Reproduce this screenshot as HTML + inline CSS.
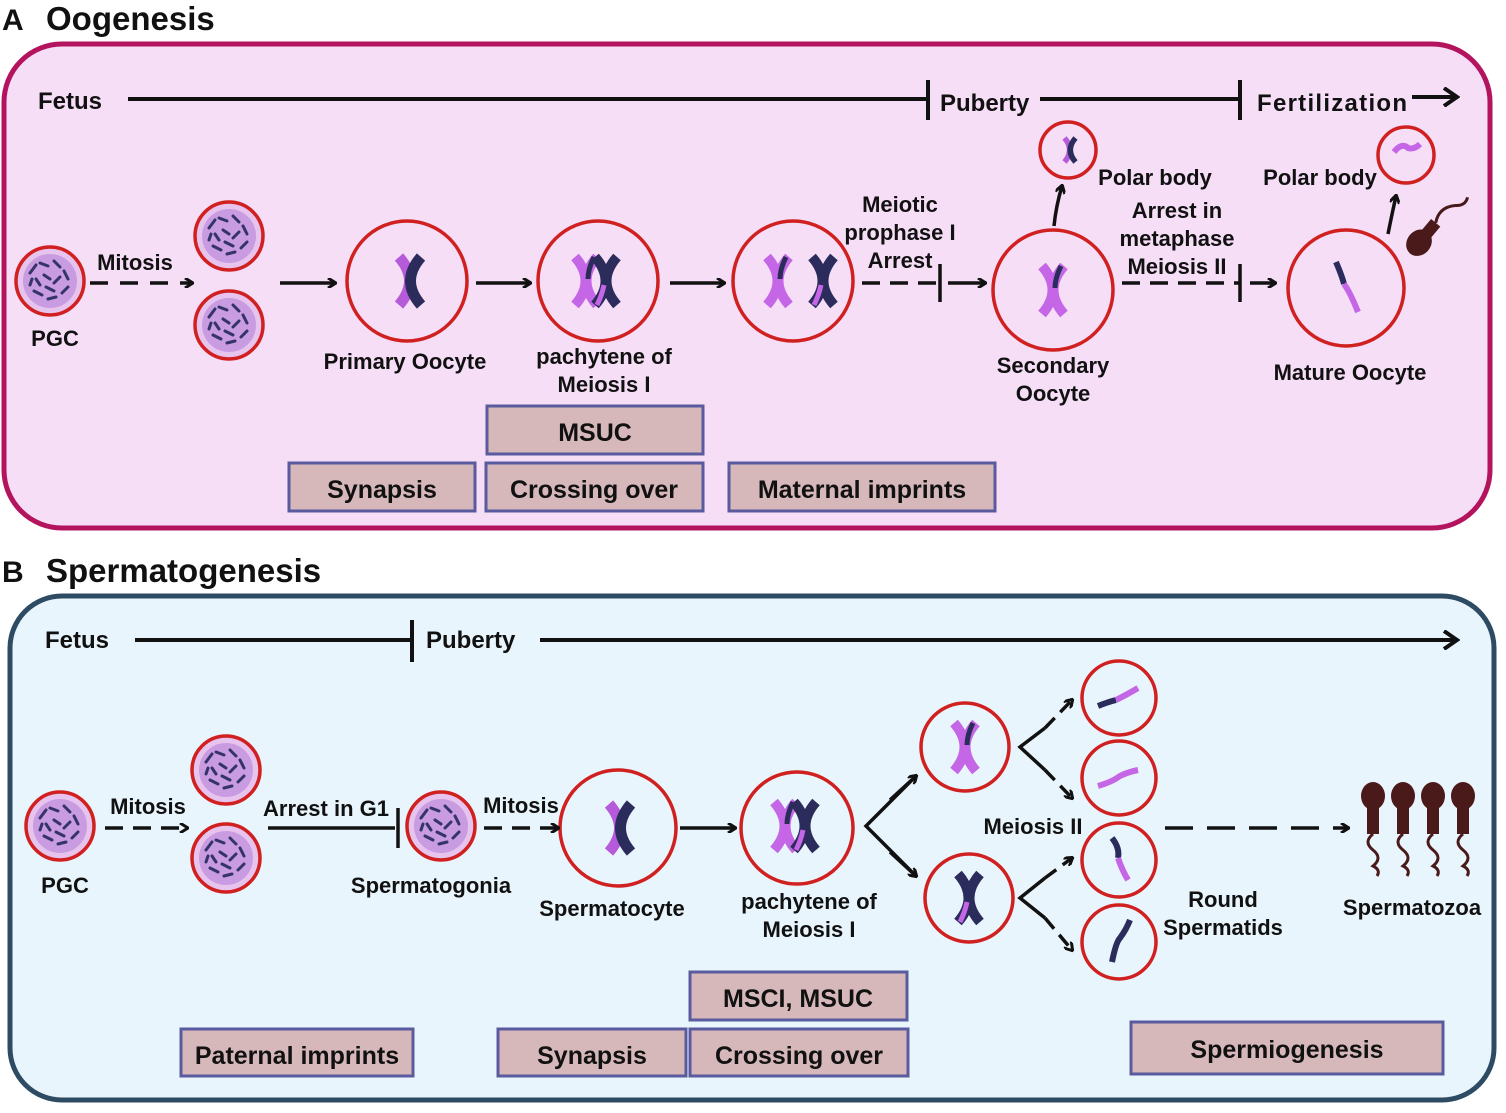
<!DOCTYPE html>
<html><head><meta charset="utf-8"><style>
body{margin:0;background:#fff}
svg{display:block}
text{font-family:"Liberation Sans",sans-serif;font-weight:bold;fill:#111}
</style></head><body>
<svg width="1506" height="1113" viewBox="0 0 1506 1113" xmlns="http://www.w3.org/2000/svg">
<defs>
<marker id="ah" markerWidth="10" markerHeight="10" refX="8" refY="5" orient="auto" markerUnits="userSpaceOnUse">
<path d="M1,0 L9,5 L1,10" fill="none" stroke="#111" stroke-width="3"/></marker>
<marker id="ahb" markerWidth="18" markerHeight="20" refX="14" refY="10" orient="auto" markerUnits="userSpaceOnUse">
<path d="M2,1 L15,10 L2,19" fill="none" stroke="#111" stroke-width="4"/></marker>
<g id="cell">
<circle r="34" fill="#e6c4ee" stroke="#d02020" stroke-width="3.5"/>
<circle r="27" fill="#c99be0"/>
<g stroke="#34346a" stroke-width="3" fill="none" stroke-linecap="round">
<path d="M-20,-8 l6,-8 M-10,-18 l8,3 M4,-20 l6,6 M14,-10 l4,8 M18,6 l-6,6 M6,16 l-8,2 M-8,14 l-8,-4 M-20,4 l2,-6 M-6,-6 l6,4 M4,2 l6,-6 M-4,6 l8,4 M-14,-2 l4,6"/>
</g></g>
<g id="x1">
<path d="M-11,-24 Q10,0 -11,24" stroke="#b55ad8" stroke-width="11" fill="none"/>
<path d="M11,-24 Q-10,0 11,24" stroke="#2b2b5c" stroke-width="11" fill="none"/>
</g>
<g id="xm">
<path d="M-11,-24 Q10,0 -11,24" stroke="#c466e6" stroke-width="10" fill="none"/>
<path d="M11,-24 Q-10,0 11,24" stroke="#c466e6" stroke-width="10" fill="none"/>
<path d="M8,-24 Q2,-12 2,-2" stroke="#2b2b5c" stroke-width="5" fill="none"/>
</g>
<g id="xn">
<path d="M-11,-24 Q10,0 -11,24" stroke="#2b2b5c" stroke-width="10" fill="none"/>
<path d="M11,-24 Q-10,0 11,24" stroke="#2b2b5c" stroke-width="10" fill="none"/>
<path d="M-2,4 Q-4,14 -9,24" stroke="#c466e6" stroke-width="5" fill="none"/>
</g>
<g id="sperm">
<ellipse cx="0" cy="-22" rx="12" ry="14" fill="#4a1a1a"/>
<rect x="-6" y="-14" width="12" height="30" fill="#4a1a1a"/>
<path d="M0,16 q-10,8 0,16 q10,8 0,16 q8,4 4,10" stroke="#4a1a1a" stroke-width="3" fill="none"/>
</g>
</defs>

<!-- PANEL A -->
<text x="2" y="30" font-size="30">A</text>
<text x="46" y="30" font-size="33">Oogenesis</text>
<rect x="4" y="44" width="1486" height="484" rx="58" fill="#f6def7" stroke="#b4135e" stroke-width="5"/>
<g font-size="24">
<text x="38" y="109">Fetus</text>
<text x="940" y="111">Puberty</text>
<text x="1257" y="111" textLength="150">Fertilization</text>
</g>
<g stroke="#111" stroke-width="4" fill="none">
<line x1="128" y1="99" x2="928" y2="99"/><line x1="928" y1="80" x2="928" y2="120"/>
<line x1="1040" y1="99" x2="1240" y2="99"/><line x1="1240" y1="80" x2="1240" y2="120"/>
<line x1="1412" y1="97" x2="1456" y2="97" marker-end="url(#ahb)"/>
</g>

<use href="#cell" x="50" y="281"/>
<use href="#cell" x="229" y="236"/>
<use href="#cell" x="229" y="325"/>
<g fill="none" stroke="#d02020" stroke-width="3.5">
<circle cx="407" cy="281" r="60"/><circle cx="598" cy="281" r="60"/><circle cx="793" cy="281" r="60"/>
<circle cx="1053" cy="290" r="60"/><circle cx="1068" cy="150" r="28"/><circle cx="1346" cy="288" r="58"/><circle cx="1406" cy="155" r="28"/>
</g>
<use href="#x1" x="410" y="281"/>
<g transform="translate(593,281)"><use href="#xm" x="-7" y="0"/><use href="#xn" x="13" y="0"/></g>
<use href="#xm" x="778" y="281"/><use href="#xn" x="823" y="281"/>
<use href="#xm" x="1053" y="290"/>
<g transform="translate(1070,150) scale(0.5)"><use href="#x1"/></g>
<path d="M1336,262 q6,14 8,22" stroke="#2b2b5c" stroke-width="6" fill="none"/>
<path d="M1344,284 q6,8 14,28" stroke="#c466e6" stroke-width="6" fill="none"/>
<path d="M1394,152 q8,-10 14,-4 q6,2 12,-4" stroke="#c466e6" stroke-width="6" fill="none"/>
<g transform="translate(1428,232) rotate(40)"><ellipse cx="0" cy="14" rx="12" ry="14" fill="#4a1a1a"/><rect x="-6" y="-12" width="12" height="18" fill="#4a1a1a"/><path d="M0,-12 q-8,-14 4,-26 q8,-6 4,-14" stroke="#4a1a1a" stroke-width="3" fill="none"/></g>

<g stroke="#111" stroke-width="3.5" fill="none">
<line x1="90" y1="283" x2="192" y2="283" stroke-dasharray="18,12" marker-end="url(#ah)"/>
<line x1="280" y1="283" x2="335" y2="283" marker-end="url(#ah)"/>
<line x1="476" y1="283" x2="530" y2="283" marker-end="url(#ah)"/>
<line x1="670" y1="283" x2="724" y2="283" marker-end="url(#ah)"/>
<line x1="862" y1="283" x2="940" y2="283" stroke-dasharray="18,10"/><line x1="940" y1="264" x2="940" y2="302"/>
<line x1="948" y1="283" x2="985" y2="283" marker-end="url(#ah)"/>
<line x1="1122" y1="283" x2="1240" y2="283" stroke-dasharray="18,10"/><line x1="1240" y1="264" x2="1240" y2="302"/>
<line x1="1250" y1="283" x2="1275" y2="283" marker-end="url(#ah)"/>
<path d="M1054,226 q2,-20 8,-40" marker-end="url(#ah)"/>
<path d="M1388,234 q4,-20 8,-38" marker-end="url(#ah)"/>
</g>
<g font-size="22" text-anchor="middle">
<text x="135" y="270">Mitosis</text>
<text x="55" y="346">PGC</text>
<text x="405" y="369">Primary Oocyte</text>
<text x="604" y="364">pachytene of</text><text x="604" y="392">Meiosis I</text>
<text x="900" y="212">Meiotic</text><text x="900" y="240">prophase I</text><text x="900" y="268">Arrest</text>
<text x="1053" y="373">Secondary</text><text x="1053" y="401">Oocyte</text>
<text x="1155" y="185">Polar body</text>
<text x="1320" y="185">Polar body</text>
<text x="1177" y="218">Arrest in</text><text x="1177" y="246">metaphase</text><text x="1177" y="274">Meiosis II</text>
<text x="1350" y="380">Mature Oocyte</text>
</g>
<g fill="#d6b8bb" stroke="#5a5a9e" stroke-width="3">
<rect x="487" y="406" width="216" height="48"/>
<rect x="289" y="463" width="186" height="48"/>
<rect x="486" y="463" width="217" height="48"/>
<rect x="729" y="463" width="266" height="48"/>
</g>
<g font-size="25" text-anchor="middle">
<text x="595" y="441">MSUC</text>
<text x="382" y="498">Synapsis</text>
<text x="594" y="498">Crossing over</text>
<text x="862" y="498">Maternal imprints</text>
</g>

<!-- PANEL B -->
<text x="2" y="582" font-size="30">B</text>
<text x="46" y="582" font-size="33">Spermatogenesis</text>
<rect x="10" y="596" width="1484" height="504" rx="52" fill="#e9f5fc" stroke="#2d4b62" stroke-width="5"/>
<g font-size="24">
<text x="45" y="648">Fetus</text>
<text x="426" y="648">Puberty</text>
</g>
<g stroke="#111" stroke-width="4" fill="none">
<line x1="135" y1="640" x2="412" y2="640"/><line x1="412" y1="620" x2="412" y2="662"/>
<line x1="540" y1="640" x2="1456" y2="640" marker-end="url(#ahb)"/>
</g>
<use href="#cell" x="60" y="826"/>
<use href="#cell" x="226" y="770"/>
<use href="#cell" x="226" y="858"/>
<use href="#cell" x="441" y="826"/>
<g fill="none" stroke="#d02020" stroke-width="3.5">
<circle cx="618" cy="828" r="58"/><circle cx="797" cy="828" r="56"/>
<circle cx="965" cy="747" r="44"/><circle cx="969" cy="898" r="44"/>
<circle cx="1119" cy="698" r="37"/><circle cx="1119" cy="778" r="37"/><circle cx="1119" cy="860" r="37"/><circle cx="1119" cy="942" r="37"/>
</g>
<use href="#x1" x="620" y="828"/>
<g transform="translate(792,826)"><use href="#xm" x="-7" y="0"/><use href="#xn" x="13" y="0"/></g>
<use href="#xm" x="965" y="747"/>
<use href="#xn" x="969" y="898"/>
<path d="M1098,706 q10,-4 18,-6" stroke="#2b2b5c" stroke-width="6" fill="none"/><path d="M1116,700 q12,-6 22,-12" stroke="#c466e6" stroke-width="6" fill="none"/>
<path d="M1098,786 q14,-4 22,-10 q8,-4 18,-6" stroke="#c466e6" stroke-width="6" fill="none"/>
<path d="M1112,838 q8,10 6,20" stroke="#2b2b5c" stroke-width="6" fill="none"/><path d="M1118,858 q4,12 10,22" stroke="#c466e6" stroke-width="6" fill="none"/>
<path d="M1112,962 q4,-20 8,-24 q6,-8 10,-18" stroke="#2b2b5c" stroke-width="6" fill="none"/>
<g stroke="#111" stroke-width="3.5" fill="none">
<line x1="105" y1="828" x2="187" y2="828" stroke-dasharray="18,10" marker-end="url(#ah)"/>
<line x1="268" y1="828" x2="395" y2="828"/><line x1="398" y1="808" x2="398" y2="848"/>
<line x1="484" y1="828" x2="558" y2="828" stroke-dasharray="18,10" marker-end="url(#ah)"/>
<line x1="680" y1="828" x2="735" y2="828" marker-end="url(#ah)"/>
<polyline points="916,776 866,826 916,876"/>
<line x1="890" y1="800" x2="916" y2="776" marker-end="url(#ah)"/>
<line x1="890" y1="852" x2="916" y2="876" marker-end="url(#ah)"/>
<polyline points="1045,728 1020,747 1045,770"/>
<line x1="1045" y1="728" x2="1072" y2="700" stroke-dasharray="14,8" marker-end="url(#ah)"/>
<line x1="1045" y1="770" x2="1072" y2="798" stroke-dasharray="14,8" marker-end="url(#ah)"/>
<polyline points="1045,878 1020,898 1045,918"/>
<line x1="1045" y1="878" x2="1072" y2="858" stroke-dasharray="14,8" marker-end="url(#ah)"/>
<line x1="1045" y1="918" x2="1072" y2="950" stroke-dasharray="14,8" marker-end="url(#ah)"/>
<line x1="1165" y1="828" x2="1348" y2="828" stroke-dasharray="28,14" marker-end="url(#ah)"/>
</g>
<use href="#sperm" x="1373" y="818"/><use href="#sperm" x="1403" y="818"/><use href="#sperm" x="1433" y="818"/><use href="#sperm" x="1463" y="818"/>
<g font-size="22" text-anchor="middle">
<text x="148" y="814">Mitosis</text>
<text x="65" y="893">PGC</text>
<text x="326" y="816">Arrest in G1</text>
<text x="521" y="813">Mitosis</text>
<text x="431" y="893">Spermatogonia</text>
<text x="612" y="916">Spermatocyte</text>
<text x="809" y="909">pachytene of</text><text x="809" y="937">Meiosis I</text>
<text x="1033" y="834">Meiosis II</text>
<text x="1223" y="907">Round</text><text x="1223" y="935">Spermatids</text>
<text x="1412" y="915">Spermatozoa</text>
</g>
<g fill="#d6b8bb" stroke="#5a5a9e" stroke-width="3">
<rect x="690" y="972" width="217" height="48"/>
<rect x="181" y="1029" width="232" height="47"/>
<rect x="498" y="1029" width="188" height="47"/>
<rect x="690" y="1029" width="218" height="47"/>
<rect x="1131" y="1022" width="312" height="52"/>
</g>
<g font-size="25" text-anchor="middle">
<text x="798" y="1007">MSCI, MSUC</text>
<text x="297" y="1064">Paternal imprints</text>
<text x="592" y="1064">Synapsis</text>
<text x="799" y="1064">Crossing over</text>
<text x="1287" y="1058">Spermiogenesis</text>
</g>
</svg>
</body></html>
